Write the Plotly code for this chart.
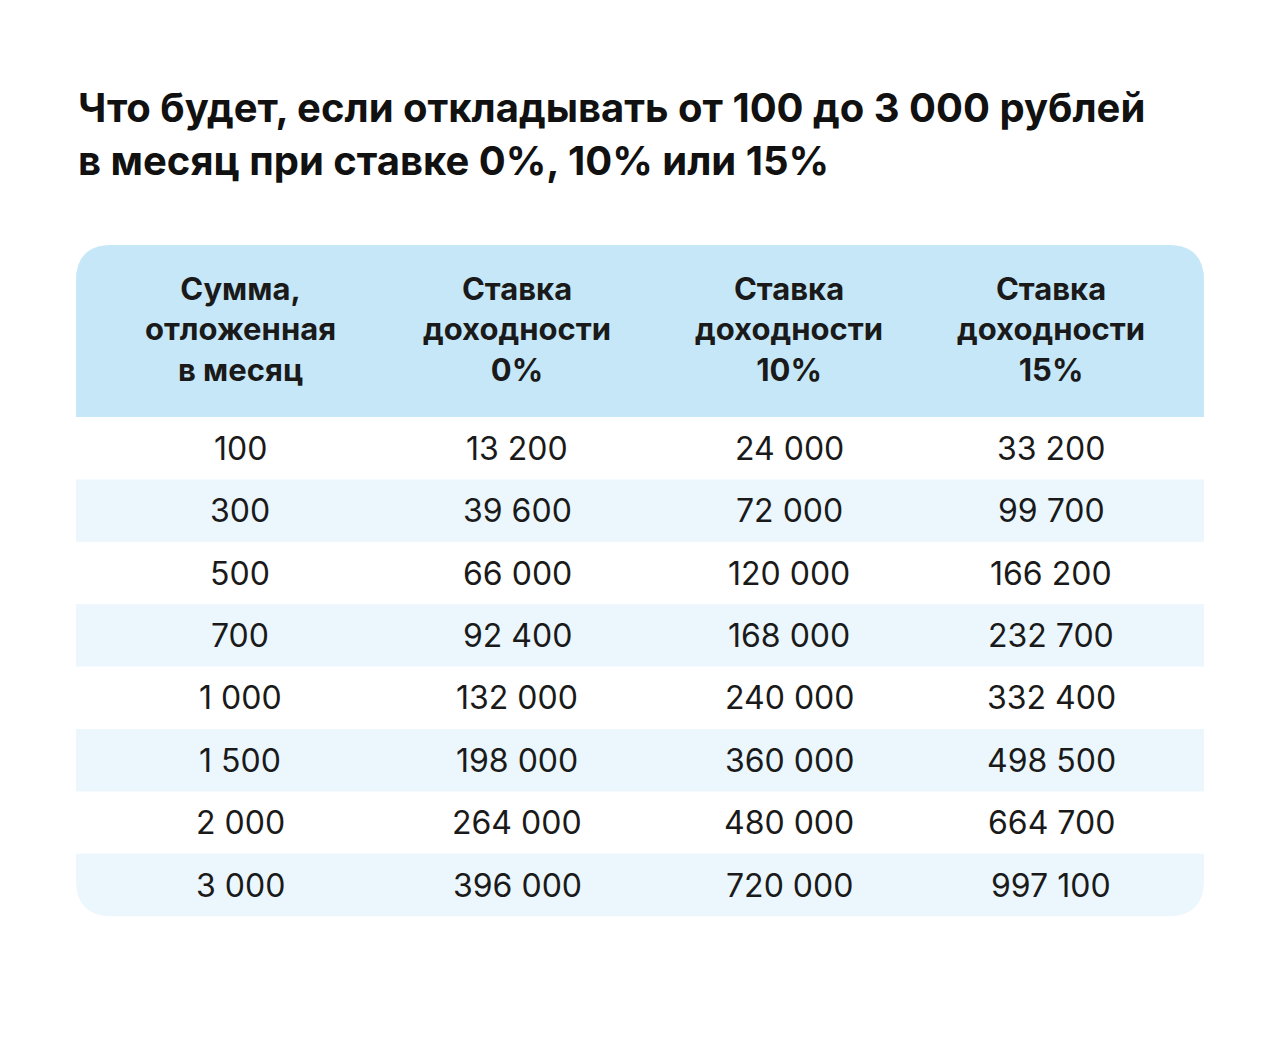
import plotly.graph_objects as go

title_lines = ["Что будет, если откладывать от 100 до 3 000 рублей",
               "в месяц при ставке 0%, 10% или 15%"]
headers = ["Сумма,<br>отложенная<br>в месяц",
           "Ставка<br>доходности<br>0%",
           "Ставка<br>доходности<br>10%",
           "Ставка<br>доходности<br>15%"]
monthly = ["100", "300", "500", "700", "1 000", "1 500", "2 000", "3 000"]
rate_0 = ["13 200", "39 600", "66 000", "92 400", "132 000", "198 000", "264 000", "396 000"]
rate_10 = ["24 000", "72 000", "120 000", "168 000", "240 000", "360 000", "480 000", "720 000"]
rate_15 = ["33 200", "99 700", "166 200", "232 700", "332 400", "498 500", "664 700", "997 100"]

columns = [monthly, rate_0, rate_10, rate_15]
col_x = [240, 517, 789, 1051]
left, right, top, head_bottom, row_h = 76, 1204, 245, 417, 62.4
bottom = head_bottom + row_h * len(monthly)
r = 36
HEAD = "#c6e7f8"
STRIPE = "#ebf6fd"
FONT = "Inter, Open Sans, sans-serif"

fig = go.Figure()
shapes = []
# whole table background with rounded corners
shapes.append(dict(type="path", fillcolor=STRIPE, line_width=0, layer="below",
                   path=f"M{left+r},{top} L{right-r},{top} Q{right},{top} {right},{top+r} "
                        f"L{right},{bottom-r} Q{right},{bottom} {right-r},{bottom} "
                        f"L{left+r},{bottom} Q{left},{bottom} {left},{bottom-r} "
                        f"L{left},{top+r} Q{left},{top} {left+r},{top} Z"))
# header
shapes.append(dict(type="path", fillcolor=HEAD, line_width=0, layer="below",
                   path=f"M{left+r},{top} L{right-r},{top} Q{right},{top} {right},{top+r} "
                        f"L{right},{head_bottom} L{left},{head_bottom} "
                        f"L{left},{top+r} Q{left},{top} {left+r},{top} Z"))
for i in range(0, len(monthly), 2):
    y0 = head_bottom + i * row_h
    shapes.append(dict(type="rect", x0=left, x1=right, y0=y0, y1=y0 + row_h,
                       fillcolor="white", line_width=0, layer="below"))

ann = []
for k, line in enumerate(title_lines):
    ann.append(dict(x=left, y=107 + 53 * k, text=f"<b>{line}</b>", xanchor="left",
                    yanchor="middle", showarrow=False,
                    font=dict(size=40, color="#111", family=FONT)))
for c, h in enumerate(headers):
    ann.append(dict(x=col_x[c], y=(top + head_bottom) / 2 - 2, text=f"<b>{h}</b>",
                    showarrow=False, align="center",
                    font=dict(size=31, color="#1a1a1a", family=FONT)))
for c, col in enumerate(columns):
    for i, v in enumerate(col):
        ann.append(dict(x=col_x[c], y=head_bottom + (i + 0.5) * row_h, text=v,
                        showarrow=False, font=dict(size=32, color="#1a1a1a", family=FONT)))

fig.update_layout(width=1280, height=1041, margin=dict(l=0, r=0, t=0, b=0),
                  plot_bgcolor="white", paper_bgcolor="white",
                  shapes=shapes, annotations=ann, showlegend=False,
                  xaxis=dict(range=[8, 1288], visible=False),
                  yaxis=dict(range=[1049, 8], visible=False))
fig.write_html("out.html")
